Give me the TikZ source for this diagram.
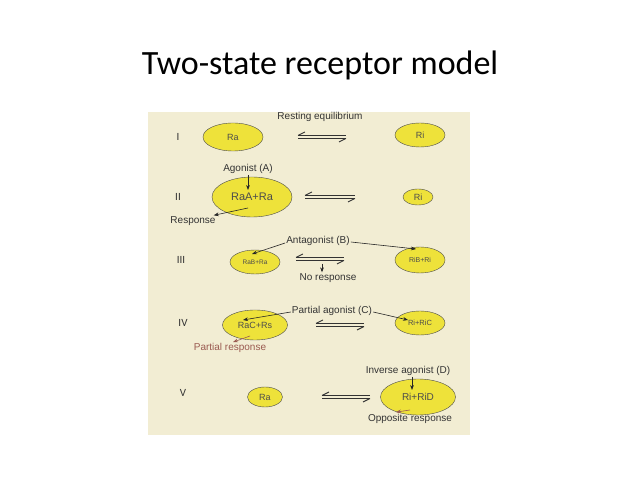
\documentclass[tikz,border=0pt]{standalone}
\usepackage{fontspec}
\setmainfont{Carlito}
\newfontfamily\lab{Liberation Sans}
\usetikzlibrary{arrows.meta,shapes.geometric}
\definecolor{panel}{HTML}{F2EDD3}
\definecolor{yel}{HTML}{EEE23A}
\definecolor{brn}{HTML}{9A5A50}
\tikzset{
  x=1pt,y=1pt,
  rec/.style={ellipse,draw=black!70,fill=yel,inner sep=0pt,font=\lab\fontsize{9}{9}\selectfont,text=black!70},
  txt/.style={font=\lab\fontsize{10}{10}\selectfont,text=black!80,inner sep=1pt},
  roman/.style={font=\rmfamily\fontsize{11}{11}\selectfont,text=black!80},
  con/.style={-{Stealth[length=5pt]},black!85,semithick},
  rcon/.style={-{Stealth[length=5pt]},brn,semithick},
}
\newcommand{\eqarr}[3]{% x, y, half-width
  \draw[black!80,line width=0.9pt] (#1-#3,#2+1.5) -- (#1+#3,#2+1.5);
  \draw[black!80,line width=0.9pt] (#1-#3,#2+1.5) -- (#1-#3+7,#2+5);
  \draw[black!80,line width=0.9pt] (#1-#3,#2-1.5) -- (#1+#3,#2-1.5);
  \draw[black!80,line width=0.9pt] (#1+#3,#2-1.5) -- (#1+#3-7,#2-5);
}
\begin{document}
\begin{tikzpicture}
\useasboundingbox (0,0) rectangle (638,479);
\fill[white] (0,0) rectangle (638,479);
\fill[panel] (148,44) rectangle (470,367);
\node (title) at (320,414) {\fontsize{34}{34}\selectfont Two-state receptor model};

\node[txt] (rest) at (320,362) {Resting equilibrium};
\node[roman] (r1) at (178,342) {I};
\node[rec,minimum width=60,minimum height=28] (ra1) at (233,342) {Ra};
\eqarr{322}{342}{24}
\node[rec,minimum width=50,minimum height=24] (ri1) at (420,344) {Ri};

\node[txt] (ag) at (248,310) {Agonist (A)};
\node[roman] (r2) at (178,282) {II};
\node[rec,minimum width=80,minimum height=40,font=\lab\fontsize{11}{11}\selectfont] (raa) at (252,282) {RaA+Ra};
\eqarr{330}{282}{25}
\node[rec,minimum width=30,minimum height=16] (ri2) at (418,282) {Ri};
\node[txt] (resp) at (193,258) {Response};
\draw[con] (ag.south) -- ([xshift=-4,yshift=7]raa.center);
\draw[con] ([xshift=-4,yshift=-11]raa.center) -- ([xshift=-3]resp.north east);

\node[txt] (ant) at (318,238) {Antagonist (B)};
\node[roman] (r3) at (181,219) {III};
\node[rec,minimum width=50,minimum height=24,font=\lab\fontsize{6.5}{6.5}\selectfont] (rab) at (255,217) {RaB+Ra};
\eqarr{320}{220}{24}
\node[rec,minimum width=50,minimum height=26,font=\lab\fontsize{7}{7}\selectfont] (rib) at (420,219) {RiB+Ri};
\coordinate (eq3) at (322,215);
\node[txt] (nor) at (328,201) {No response};
\draw[con] (eq3) -- ([xshift=-6]nor.north);
\draw[con] ([yshift=-2]ant.west) -- ([xshift=-3,yshift=8]rab.center);
\draw[con] ([yshift=-1]ant.east) -- ([xshift=-4,yshift=11]rib.center);

\node[txt] (pa) at (332,168) {Partial agonist (C)};
\node[roman] (r4) at (183,156) {IV};
\node[rec,minimum width=65,minimum height=30] (rac) at (255,154) {RaC+Rs};
\eqarr{340}{154}{24}
\node[rec,minimum width=50,minimum height=24,font=\lab\fontsize{7.5}{7.5}\selectfont] (ric) at (420,156) {Ri+RiC};
\node[txt,text=brn] (pr) at (230,131) {Partial response};
\draw[con] ([yshift=-1]pa.west) -- ([xshift=-12,yshift=5]rac.center);
\draw[con] ([yshift=-1]pa.east) -- ([xshift=-12,yshift=3]ric.center);
\draw[rcon] ([xshift=-5,yshift=-11]rac.center) -- ([xshift=3]pr.north);

\node[txt] (ia) at (408,108) {Inverse agonist (D)};
\node[roman] (r5) at (183,86) {V};
\node[rec,minimum width=35,minimum height=20] (ra5) at (265,82) {Ra};
\eqarr{346}{82}{24}
\node[rec,minimum width=75,minimum height=36,font=\lab\fontsize{10}{10}\selectfont] (rid) at (418,82) {Ri+RiD};
\node[txt] (opp) at (410,60) {Opposite response};
\draw[con] ([xshift=4]ia.south) -- ([xshift=-6,yshift=7]rid.center);
\draw[rcon] ([xshift=-8,yshift=-13]rid.center) -- ([xshift=-14,yshift=1]opp.north);
\end{tikzpicture}
\end{document}
